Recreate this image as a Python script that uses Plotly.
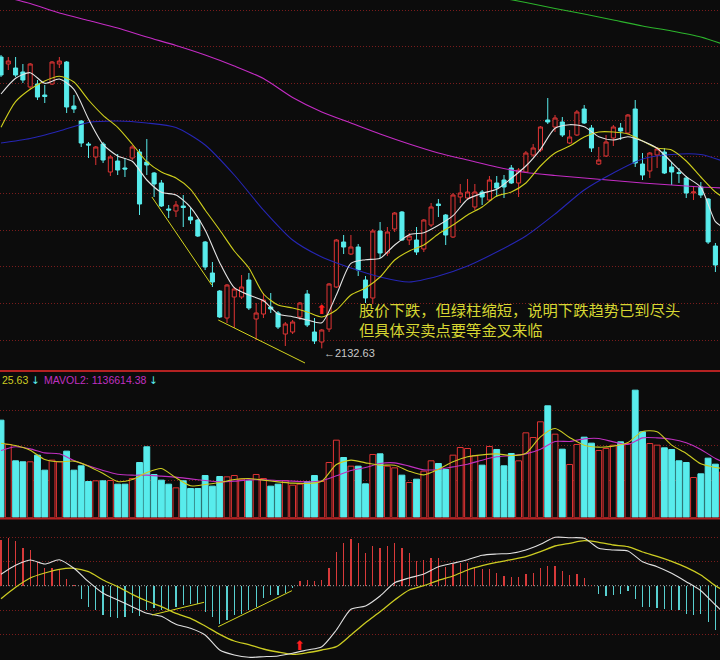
import plotly.graph_objects as go

# ---------------- data ----------------
opens = [2424, 2417, 2413, 2409, 2394, 2397, 2386, 2397, 2417, 2419,
         2375, 2360, 2337, 2324, 2337, 2309, 2320, 2313, 2323, 2329,
         2319, 2308, 2298, 2272, 2270, 2275, 2264, 2261, 2239, 2208,
         2190, 2163, 2184, 2184, 2201, 2162, 2167, 2174, 2168, 2147,
         2149, 2164, 2187, 2149, 2139, 2152, 2194, 2239, 2227, 2234,
         2201, 2183, 2250, 2228, 2252, 2269, 2241, 2241, 2232, 2256,
         2277, 2266, 2244, 2284, 2283, 2274, 2289, 2281, 2298, 2301,
         2313, 2298, 2309, 2326, 2331, 2361, 2354, 2359, 2338, 2346,
         2372, 2353, 2317, 2325, 2343, 2353, 2348, 2372, 2317, 2310,
         2326, 2329, 2314, 2308.3, 2303, 2288, 2294, 2282, 2235, 2218]
closes = [2406, 2420, 2406, 2401, 2417, 2384, 2384.5, 2419, 2420, 2374,
          2372, 2338, 2336, 2334, 2321, 2324, 2311, 2312, 2334, 2277,
          2316, 2297, 2275, 2271, 2276, 2273.5, 2261, 2245, 2214, 2199,
          2164, 2196, 2192, 2194, 2173, 2168, 2181, 2172, 2154, 2157,
          2159, 2178, 2156, 2140, 2151, 2197, 2241, 2234, 2234, 2211,
          2183, 2250, 2228, 2249, 2268, 2241, 2245, 2229, 2261, 2274,
          2275.5, 2246, 2286, 2288, 2289, 2289, 2284, 2301, 2293, 2294,
          2298, 2311, 2328, 2333, 2354, 2359, 2363, 2346, 2344, 2369,
          2358, 2333, 2321, 2339, 2354, 2350, 2366, 2318, 2306, 2328,
          2332, 2308, 2309, 2307.7, 2288, 2289, 2286, 2239, 2216, 2224]
highs = [2426, 2424, 2424, 2417, 2418, 2401, 2396, 2420, 2424, 2420,
         2386, 2361, 2339, 2335, 2339, 2326, 2327, 2323, 2336, 2332,
         2342, 2309, 2301, 2276, 2280, 2286, 2273, 2262, 2240, 2219,
         2191, 2197, 2194, 2206, 2208, 2178, 2188, 2188, 2170, 2159,
         2161, 2179, 2191, 2163, 2152, 2198, 2242, 2246, 2246, 2237,
         2205, 2252, 2259, 2254, 2269, 2270, 2248, 2254, 2262, 2278,
         2282, 2267, 2288, 2297, 2302, 2297, 2291, 2305, 2305, 2306,
         2316, 2313, 2330, 2337, 2355, 2383, 2366, 2364, 2351, 2371,
         2376, 2356, 2334, 2346, 2356, 2358, 2367, 2381, 2328, 2329,
         2334, 2333, 2319, 2313, 2305, 2294, 2299, 2283, 2238, 2226]
lows = [2404, 2411, 2404, 2398, 2391, 2381, 2378, 2396, 2413, 2368,
        2368, 2334, 2323, 2316, 2318, 2305, 2306, 2304, 2321, 2266,
        2306, 2284, 2274, 2263, 2264, 2254, 2257, 2244, 2211, 2194,
        2163, 2158, 2153, 2182, 2171, 2141, 2163, 2168, 2152, 2135,
        2147, 2161, 2154, 2137, 2132.63, 2149, 2193, 2227, 2226, 2205,
        2178, 2177, 2223, 2225, 2249, 2240, 2236, 2226, 2229, 2254,
        2264, 2236, 2243, 2278, 2281, 2271, 2276, 2280, 2284, 2283,
        2297, 2284, 2308, 2324, 2329, 2357, 2349, 2344, 2337, 2345,
        2357, 2329, 2316, 2324, 2335, 2341, 2347, 2314, 2301, 2303,
        2313, 2307, 2296, 2298, 2283, 2281, 2283, 2237, 2209, 2216]

# volume (10k lots)
volumes = [225.8, 169.4, 131.5, 129.2, 129.2, 144.6, 109.8, 133.0, 129.2, 153.9,
           109.8, 119.9, 83.5, 85.1, 85.1, 85.8, 77.3, 77.3, 90.5, 127.6,
           164.0, 99.8, 86.6, 77.3, 68.8, 85.1, 67.3, 67.3, 97.4, 72.7,
           95.1, 94.3, 97.4, 88.9, 85.1, 99.8, 90.5, 72.7, 77.3, 85.8,
           75.0, 77.3, 83.5, 97.4, 83.5, 127.6, 179.4, 139.2, 119.1, 119.1,
           78.1, 146.2, 147.7, 119.1, 115.2, 98.2, 81.2, 88.9, 107.5, 131.5,
           125.3, 111.4, 144.6, 162.4, 160.1, 143.1, 121.4, 164.7, 157.8, 119.9,
           148.5, 131.5, 196.4, 185.6, 222.0, 259.1, 193.3, 158.5, 123.0, 169.4,
           186.4, 172.5, 155.4, 160.1, 167.8, 175.5, 171.7, 295.4, 198.7, 171.7,
           167.8, 161.6, 157.8, 131.5, 127.6, 92.8, 101.3, 137.7, 123.7, 106.0]

# short lines sampled every second bar (+ last bar)
short_idx = list(range(0, 100, 2)) + [99]
ma5 = [2387, 2402.7, 2408.3, 2397.7, 2402, 2391.7, 2362, 2336.7, 2325, 2319.7,
       2301, 2288.7, 2286, 2273.7, 2251, 2218.3, 2193.3, 2186, 2180.3, 2167,
       2164.3, 2161, 2158.3, 2186, 2217.7, 2221.3, 2222.7, 2236, 2246.3, 2248.3,
       2255.7, 2265.3, 2281.7, 2287.7, 2291.7, 2302.7, 2315, 2331.7, 2352.7, 2356.3,
       2354.3, 2344.3, 2341, 2344.3, 2340, 2332.7, 2318.7, 2304.3, 2293.7, 2259.3, 2254]
ma10 = [2353.7, 2379.3, 2391.7, 2400, 2404.7, 2399, 2381, 2365.7, 2353.7, 2337,
        2319.3, 2309, 2303, 2291.7, 2271, 2251, 2230, 2213, 2187, 2176,
        2173, 2169, 2164, 2171, 2186, 2193, 2204, 2221, 2230, 2236,
        2247, 2256, 2266, 2274, 2285, 2289, 2298, 2315, 2328, 2335,
        2344, 2349, 2349, 2347, 2340, 2333, 2331, 2320, 2304, 2289, 2284]
mavol1 = [172.4, 167, 156.2, 134.6, 129.2, 130.7, 119.1, 102.1, 83.5, 88.2,
          104.4, 113.7, 92, 73.5, 76.6, 81.2, 88.2, 90.5, 86.6, 82.7,
          79.7, 78.9, 84.3, 123, 133, 126.8, 121.4, 121.4, 107.5, 99,
          112.1, 129.2, 140.8, 145.4, 147.7, 143.8, 149.3, 187.1, 206.5, 185.6,
          167.8, 163.2, 165.5, 174, 199.5, 198.7, 167.8, 148.5, 124.5, 116, 113.7]
mavol2 = [155.4, 164, 159.3, 150, 147.7, 132.2, 119.9, 109, 100.5, 98.2,
          98.2, 95.9, 93.6, 89.7, 85.8, 82.7, 84.3, 87.4, 87.4, 85.8,
          84.3, 82.7, 85.1, 96.7, 109, 116, 125.3, 126.8, 119.1, 110.6,
          111.4, 117.5, 123.7, 133, 140.8, 143.8, 147.7, 158.5, 176.3, 176.3,
          182.5, 183.3, 175.5, 169.4, 184.8, 184.8, 181.7, 173.2, 157.8, 136.9, 129.2]
dif = [11.4, 20.4, 25.7, 21.7, 26, 17.4, 4, -7.6, -14.3, -21,
       -27.6, -30.6, -38.6, -42.6, -49.3, -64.3, -69.3, -71.6, -71, -70.3,
       -67.6, -64.3, -61, -44.3, -23.6, -20.3, -10.3, 3, 7.7, 11.7,
       19, 22.4, 26, 30.4, 31.7, 32.4, 35.7, 41.4, 48.4, 48,
       47.4, 37.4, 35.7, 34.7, 24, 19, 12.4, 4, -5, -19.3, -26]
dea = [-13, -1.6, 7.7, 12.7, 16.4, 17.4, 14, 5.7, -1, -8.6,
       -15.3, -21, -27.6, -32.6, -40.3, -48.6, -55.3, -59, -63.3, -66.3,
       -68.6, -67, -64.3, -61, -49.3, -37, -26, -14.3, -4.3, 0,
       5.4, 9.7, 15.7, 20, 23.4, 26, 29, 34, 39.7, 42.4,
       45, 43.4, 40.7, 39, 33.7, 29.4, 24.4, 18.4, 10.7, 0, -4.3]
macd_hist = [45.7, 47.3, 45, 37.3, 35.7, 24, 17.3, 17.3, 16.3, 6.3,
             0.7, -13.3, -21, -24.3, -29.3, -31, -32.7, -31, -27.7, -30.3,
             -24.3, -22.7, -24.3, -25, -21.7, -19.3, -18.3, -18.3, -26, -31,
             -38.3, -34.3, -29.3, -28.3, -24.3, -21, -12.7, -9.3, -9.3, -7,
             -2.7, 5, 5.7, 4.3, 5.7, 17.3, 34, 43, 46.3, 43,
             33, 39.7, 38, 39.7, 42.3, 37.3, 33, 25, 25.7, 27.3,
             27.3, 19, 21.7, 23, 23, 19, 16.3, 16.3, 13, 10,
             8.3, 8.3, 11.7, 13, 17.3, 20, 20, 15, 10.7, 11.7,
             7.3, 0.3, -8.3, -10.3, -9.3, -8.3, -5, -13.7, -21.7, -21.7,
             -22.7, -23.7, -24.3, -24.3, -28.3, -29.3, -28.3, -36, -44.3, -48]

# long moving averages sampled every fourth bar (+ last bar)
long_idx = list(range(0, 100, 4)) + [99]
ma30 = [2338, 2342.5, 2350, 2358.5, 2360, 2358, 2353.5, 2336, 2306, 2271,
        2241, 2224, 2213, 2204, 2199, 2205, 2215, 2229, 2245, 2267,
        2291, 2308, 2322, 2326.5, 2326.5, 2320]
ma60 = [2485, 2477.5, 2468, 2460.5, 2453, 2444, 2435.5, 2426, 2415, 2402.5,
        2383.5, 2369, 2358, 2347, 2337, 2328, 2321, 2314, 2308.5, 2305.5,
        2303, 2300.5, 2298, 2296, 2294, 2293]
ma120_idx = [64, 68, 72, 76, 80, 84, 88, 92, 96, 99]
ma120 = [2490, 2484, 2478.5, 2472.5, 2467, 2461, 2455, 2450, 2444, 2437]

# hand-drawn trend lines (bar index, value)
price_line1_x, price_line1_y = [20.7, 28.9], [2284, 2196]
price_line2_x, price_line2_y = [29.8, 41.7], [2161, 2118]
macd_line1_x, macd_line1_y = [20.7, 27.85], [-29.3, -16.6]
macd_line2_x, macd_line2_y = [29.8, 39.9], [-41, -5]

low_label = "←2132.63"
note_text = "股价下跌，但绿柱缩短，说明下跌趋势已到尽头<br>但具体买卖点要等金叉来临"
mavol1_label = "25.63"
mavol2_label = "MAVOL2: 1136614.38"

# ---------------- styling ----------------
BG = "#0c0c0c"
RED = "#e03434"
CYAN = "#58ecec"
GRID = "#7a1c1c"
YEL = "#d4d41e"

idx = list(range(len(opens)))
up = [c >= o for o, c in zip(opens, closes)]

fig = go.Figure()

fig.add_trace(go.Candlestick(
    x=idx, open=opens, high=highs, low=lows, close=closes,
    increasing=dict(line=dict(color=RED, width=1), fillcolor=BG),
    decreasing=dict(line=dict(color=CYAN, width=1), fillcolor=CYAN),
    whiskerwidth=0, xaxis="x", yaxis="y", hoverinfo="skip"))

def line(xs, ys, color, yaxis, width=1.1):
    fig.add_trace(go.Scatter(x=xs, y=ys, mode="lines", yaxis=yaxis, xaxis="x",
                             line=dict(color=color, width=width, shape="spline", smoothing=0.7),
                             hoverinfo="skip"))

line(long_idx, ma60, "#c42cc4", "y")
line(ma120_idx, ma120, "#2cb42c", "y")
line(long_idx, ma30, "#2626b4", "y")
line(short_idx, ma10, "#cfcf1c", "y")
line(short_idx, ma5, "#e4e4e4", "y")
fig.add_trace(go.Scatter(x=price_line1_x, y=price_line1_y, mode="lines", yaxis="y",
                         line=dict(color=YEL, width=1), hoverinfo="skip"))
fig.add_trace(go.Scatter(x=price_line2_x, y=price_line2_y, mode="lines", yaxis="y",
                         line=dict(color=YEL, width=1), hoverinfo="skip"))

# volume
fig.add_trace(go.Bar(x=idx, y=volumes, yaxis="y2", width=0.8,
                     marker=dict(color=[BG if u else CYAN for u in up],
                                 line=dict(color=[RED if u else CYAN for u in up], width=1)),
                     hoverinfo="skip"))
line(short_idx, mavol2, "#c030c0", "y2")
line(short_idx, mavol1, "#cccc22", "y2")

# MACD
fig.add_trace(go.Bar(x=idx, y=macd_hist, yaxis="y3", width=0.17,
                     marker=dict(color=["#d83a3a" if v >= 0 else "#58d0d0" for v in macd_hist],
                                 line=dict(width=0)),
                     hoverinfo="skip"))
line(short_idx, dea, "#cccc22", "y3", 1.3)
line(short_idx, dif, "#e0e0e0", "y3", 1.1)
fig.add_trace(go.Scatter(x=macd_line1_x, y=macd_line1_y, mode="lines", yaxis="y3",
                         line=dict(color=YEL, width=1), hoverinfo="skip"))
fig.add_trace(go.Scatter(x=macd_line2_x, y=macd_line2_y, mode="lines", yaxis="y3",
                         line=dict(color=YEL, width=1), hoverinfo="skip"))

H = 660.0
def py(pix):
    return 1 - pix / H

price_grid = [2471 - 36.7 * k for k in range(10)]
vol_top = (517.5 - 372) * 2.32
macd_grid = [-48.6, -24.3, 24.3, 48.6]

axis_common = dict(showticklabels=False, zeroline=False, showline=False, ticks="",
                   gridcolor=GRID, griddash="1px,2px", gridwidth=1, fixedrange=True)

fig.update_layout(
    width=720, height=660,
    margin=dict(l=0, r=0, t=0, b=0),
    paper_bgcolor=BG, plot_bgcolor=BG,
    showlegend=False, boxgap=0.2, bargap=0,
    xaxis=dict(range=[-0.14, 98.63], visible=False, rangeslider=dict(visible=False),
               fixedrange=True),
    yaxis=dict(domain=[py(370), 1], range=[2111, 2481], tickvals=price_grid,
               showgrid=True, **axis_common),
    yaxis2=dict(domain=[py(517.5), py(372)], range=[0, vol_top],
                tickvals=[84.7, 165.9, 247.1], showgrid=True, **axis_common),
    yaxis3=dict(domain=[0, py(520)], range=[-74.3, 65.7], tickvals=macd_grid,
                showgrid=True, **axis_common),
    font=dict(family="Liberation Sans, Arial, sans-serif"),
)

shapes = [
    dict(type="line", xref="paper", yref="paper", x0=0, x1=1, y0=py(371), y1=py(371),
         line=dict(color="#b42222", width=2)),
    dict(type="line", xref="paper", yref="paper", x0=0, x1=1, y0=py(518.5), y1=py(518.5),
         line=dict(color="#b42222", width=2)),
    dict(type="line", xref="paper", yref="y3", x0=0, x1=1, y0=0, y1=0,
         line=dict(color="#a0a0a0", width=1, dash="1px,2px"), layer="below"),
]
fig.update_layout(shapes=shapes)

ann = []
cjk = "Noto Sans CJK SC, sans-serif"
ann.append(dict(x=48.8, y=2162, xref="x", yref="y", text=note_text, showarrow=False,
                xanchor="left", yanchor="middle", align="left",
                font=dict(family=cjk, size=15.3, color="#d6d632")))
ann.append(dict(x=44.0, y=2128.5, xref="x", yref="y", text=low_label, showarrow=False,
                xanchor="left", yanchor="middle",
                font=dict(family="Liberation Sans, Arial", size=11, color="#c8c8c8")))
ann.append(dict(x=44.0, y=2172, xref="x", yref="y", text="⬆", showarrow=False,
                xanchor="center", yanchor="middle",
                font=dict(family="DejaVu Sans", size=13, color="#ff1e1e")))
ann.append(dict(x=41.0, y=-59.3, xref="x", yref="y3", text="⬆", showarrow=False,
                xanchor="center", yanchor="middle",
                font=dict(family="DejaVu Sans", size=13, color="#ff1e1e")))
ann.append(dict(x=0, y=py(380), xref="paper", yref="paper", text=mavol1_label, showarrow=False,
                xanchor="left", yanchor="middle",
                font=dict(family="Liberation Sans, Arial", size=10.5, color="#cccc22")))
ann.append(dict(x=29 / 720, y=py(380), xref="paper", yref="paper", text="↓", showarrow=False,
                xanchor="left", yanchor="middle",
                font=dict(family="DejaVu Sans", size=10.5, color=CYAN)))
ann.append(dict(x=42 / 720, y=py(380), xref="paper", yref="paper", text=mavol2_label, showarrow=False,
                xanchor="left", yanchor="middle",
                font=dict(family="Liberation Sans, Arial", size=10.5, color="#c030c0")))
ann.append(dict(x=147 / 720, y=py(380), xref="paper", yref="paper", text="↓", showarrow=False,
                xanchor="left", yanchor="middle",
                font=dict(family="DejaVu Sans", size=10.5, color=CYAN)))
fig.update_layout(annotations=ann)

fig.write_html("out.html", config={"displayModeBar": False, "staticPlot": True},
               post_script="document.body.style.margin='0';document.body.style.padding='0';")
